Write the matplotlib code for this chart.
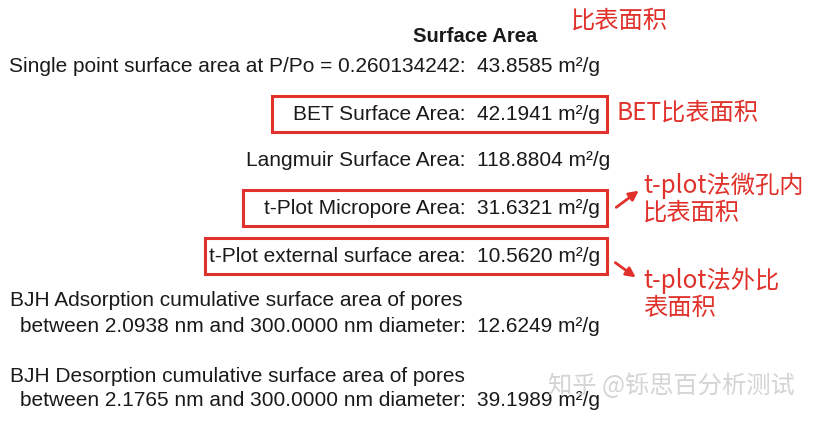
import matplotlib.pyplot as plt
from matplotlib.patches import Rectangle, FancyArrowPatch

plt.rcParams['font.family'] = ['Liberation Sans', 'DejaVu Sans']

# report lines: label (ends with colon) and value
title = "Surface Area"
labels = [
    "Single point surface area at P/Po = 0.260134242:",
    "BET Surface Area:",
    "Langmuir Surface Area:",
    "t-Plot Micropore Area:",
    "t-Plot external surface area:",
]
values = ["43.8585 m²/g", "42.1941 m²/g", "118.8804 m²/g", "31.6321 m²/g", "10.5620 m²/g"]
row_y = [67, 114, 161, 208, 256]

bjh_heads = ["BJH Adsorption cumulative surface area of pores",
             "BJH Desorption cumulative surface area of pores"]
bjh_labels = ["between 2.0938 nm and 300.0000 nm diameter:",
              "between 2.1765 nm and 300.0000 nm diameter:"]
bjh_values = ["12.6249 m²/g", "39.1989 m²/g"]
bjh_y = [(300, 327), (377, 400)]

# highlighted rows: (row index, left edge of box)
boxed = [(1, 272), (3, 243), (4, 205)]

notes = ["比表面积", "BET比表面积", "t-plot法微孔内\n比表面积", "t-plot法外比\n表面积"]
note_xy = [(571, 21), (617, 113), (643, 199), (643, 294)]
watermark = "知乎 @铄思百分析测试"

red = '#e0312b'
ink = '#1a1a1a'
cjk = ['Noto Sans CJK SC', 'DejaVu Sans']

fig = plt.figure(figsize=(8.17, 4.21), dpi=100)
ax = fig.add_axes([0, 0, 1, 1])
ax.set_xlim(0, 817)
ax.set_ylim(421, 0)
ax.axis('off')

colon_x = 466
val_x = 477
fs = 15

ax.text(475, 36, title, ha='center', va='center', fontsize=14.6, fontweight='bold', color=ink)
for lab, val, y in zip(labels, values, row_y):
    ax.text(colon_x, y, lab, ha='right', va='center', fontsize=fs, color=ink)
    ax.text(val_x, y, val, ha='left', va='center', fontsize=fs, color=ink)

for head, lab, val, (y1, y2) in zip(bjh_heads, bjh_labels, bjh_values, bjh_y):
    ax.text(10, y1, head, ha='left', va='center', fontsize=fs, color=ink)
    ax.text(colon_x, y2, lab, ha='right', va='center', fontsize=fs, color=ink)
    ax.text(val_x, y2, val, ha='left', va='center', fontsize=fs, color=ink)

for i, x0 in boxed:
    y = row_y[i]
    ax.add_patch(Rectangle((x0, y - 18), 607 - x0, 36, fill=False, edgecolor=red, lw=2.2))

for (x, y), s in zip(note_xy, notes):
    ax.text(x, y, s, ha='left', va='center', fontsize=17.5, color=red, family=cjk,
            linespacing=1.05)

ax.add_patch(FancyArrowPatch((614, 209), (641, 189), arrowstyle='-|>', mutation_scale=14,
                             color=red, lw=2))
ax.add_patch(FancyArrowPatch((613, 261), (638, 279), arrowstyle='-|>', mutation_scale=14,
                             color=red, lw=2))

ax.text(548, 386, watermark, ha='left', va='center', fontsize=17.5, color='#d4d4d4', family=cjk)

fig.savefig('out.png', dpi=100)
